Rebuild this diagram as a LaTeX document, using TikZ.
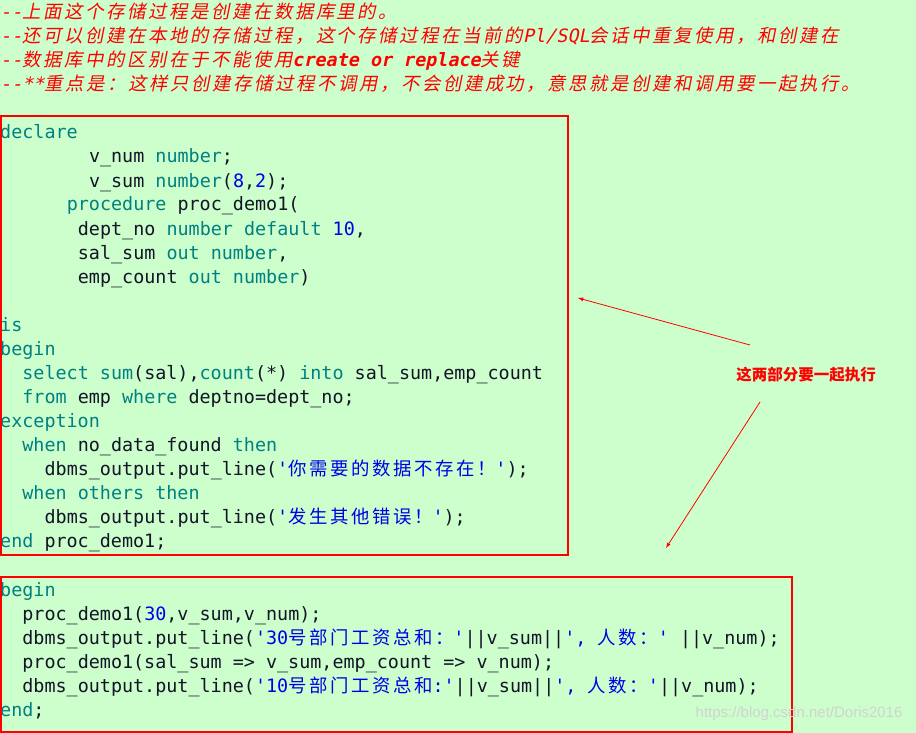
\documentclass[tikz,border=0pt]{standalone}
\usepackage{fontspec}
\newfontfamily\mono{DejaVu Sans Mono}
\newfontfamily\cjk[LetterSpace=14]{Noto Sans CJK SC}
\newfontfamily\cjkplain{Noto Sans CJK SC}
\newfontfamily\cjkit[LetterSpace=14,FakeSlant=0.2]{Noto Sans CJK SC}
\newfontfamily\monoit[FakeSlant=0.2]{DejaVu Sans Mono}
\definecolor{bggreen}{RGB}{204,255,204}
\definecolor{kwteal}{RGB}{0,128,128}
\definecolor{numblue}{RGB}{0,0,230}
\definecolor{codeblack}{RGB}{20,20,40}
\definecolor{boxred}{RGB}{255,0,0}
\newcommand\kw[1]{\textcolor{kwteal}{#1}}
\newcommand\nb[1]{\textcolor{numblue}{#1}}
\newcommand\zh[1]{{\cjk #1}}
\newcommand\zi[1]{{\cjkit #1}}
\begin{document}
\begin{tikzpicture}[x=1pt,y=-1pt]
    \def\dx{11.1}
    \def\dy{24}

    \tikzstyle{code}=[anchor=base west,inner sep=0pt,text=codeblack,font=\mono\fontsize{18.4}{20}\selectfont]
    \tikzstyle{note}=[anchor=base west,inner sep=0pt,text=boxred,font=\monoit\fontsize{18.4}{20}\selectfont]
    \tikzstyle{frame}=[draw=boxred,line width=2pt]

    \fill[bggreen] (0,0) rectangle (916,733);
    \useasboundingbox (0,0) rectangle (916,733);

    % comments on top
    \node[note] (c1) at (0,19) {--\zi{上面这个存储过程是创建在数据库里的。}};
    \node[note] (c2) at (0,43) {--\zi{还可以创建在本地的存储过程，这个存储过程在当前的}Pl/SQL\zi{会话中重复使用，和创建在}};
    \node[note] (c3) at (0,67) {--\zi{数据库中的区别在于不能使用}\textbf{create or replace}\zi{关键}};
    \node[note] (c4) at (0,91) {--**\zi{重点是：这样只创建存储过程不调用，不会创建成功，意思就是创建和调用要一起执行。}};

    % procedure block
    \node[code] (l1)  at (0*\dx,139) {\kw{declare}};
    \node[code] (l2)  at (8*\dx,139+1*\dy) {v\_num \kw{number};};
    \node[code] (l3)  at (8*\dx,139+2*\dy) {v\_sum \kw{number}(\nb{8},\nb{2});};
    \node[code] (l4)  at (6*\dx,139+3*\dy) {\kw{procedure} proc\_demo1(};
    \node[code] (l5)  at (7*\dx,139+4*\dy) {dept\_no \kw{number} \kw{default} \nb{10},};
    \node[code] (l6)  at (7*\dx,139+5*\dy) {sal\_sum \kw{out} \kw{number},};
    \node[code] (l7)  at (7*\dx,139+6*\dy) {emp\_count \kw{out} \kw{number})};
    \node[code] (l8)  at (0*\dx,139+8*\dy) {\kw{is}};
    \node[code] (l9)  at (0*\dx,139+9*\dy) {\kw{begin}};
    \node[code] (l10) at (2*\dx,139+10*\dy) {\kw{select} \kw{sum}(sal),\kw{count}(*) \kw{into} sal\_sum,emp\_count};
    \node[code] (l11) at (2*\dx,139+11*\dy) {\kw{from} emp \kw{where} deptno=dept\_no;};
    \node[code] (l12) at (0*\dx,139+12*\dy) {\kw{exception}};
    \node[code] (l13) at (2*\dx,139+13*\dy) {\kw{when} no\_data\_found \kw{then}};
    \node[code] (l14) at (4*\dx,139+14*\dy) {dbms\_output.put\_line(\nb{'\zh{你需要的数据不存在！}'});};
    \node[code] (l15) at (2*\dx,139+15*\dy) {\kw{when} \kw{others} \kw{then}};
    \node[code] (l16) at (4*\dx,139+16*\dy) {dbms\_output.put\_line(\nb{'\zh{发生其他错误！}'});};
    \node[code] (l17) at (0*\dx,139+17*\dy) {\kw{end} proc\_demo1;};

    % call block
    \node[code] (m1) at (0*\dx,596) {\kw{begin}};
    \node[code] (m2) at (2*\dx,596+1*\dy) {proc\_demo1(\nb{30},v\_sum,v\_num);};
    \node[code] (m3) at (2*\dx,596+2*\dy) {dbms\_output.put\_line(\nb{'30\zh{号部门工资总和：}'}||v\_sum||\nb{', \zh{人数：}' }||v\_num);};
    \node[code] (m4) at (2*\dx,596+3*\dy) {proc\_demo1(sal\_sum => v\_sum,emp\_count => v\_num);};
    \node[code] (m5) at (2*\dx,596+4*\dy) {dbms\_output.put\_line(\nb{'10\zh{号部门工资总和}:'}||v\_sum||\nb{', \zh{人数：}'}||v\_num);};
    \node[code] (m6) at (0*\dx,596+5*\dy) {\kw{end};};

    % frames
    \node[frame,inner sep=0pt,minimum width=567pt,minimum height=439pt,anchor=north west] (procbox) at (0,115) {};
    \node[frame,inner sep=0pt,minimum width=791pt,minimum height=155pt,anchor=north west] (callbox) at (0,576) {};

    % label and arrows
    \node[text=boxred,font=\cjkplain\fontsize{15.5}{17}\selectfont\bfseries] (tip) at (806,375) {这两部分要一起执行};
    \coordinate (a1) at (750,345);
    \coordinate (a2) at (760,402);
    \coordinate (t1) at (578,298);
    \coordinate (t2) at (666,548);
    \draw[boxred,line width=0.8pt,-latex] (a1) -- (t1);
    \draw[boxred,line width=0.8pt,-latex] (a2) -- (t2);

    \node[anchor=east,text=white!65!gray,font=\fontspec{Liberation Sans}\fontsize{15}{17}\selectfont] (wm) at (906,714) {https://blog.csdn.net/Doris2016};
  \end{tikzpicture}
\end{document}
